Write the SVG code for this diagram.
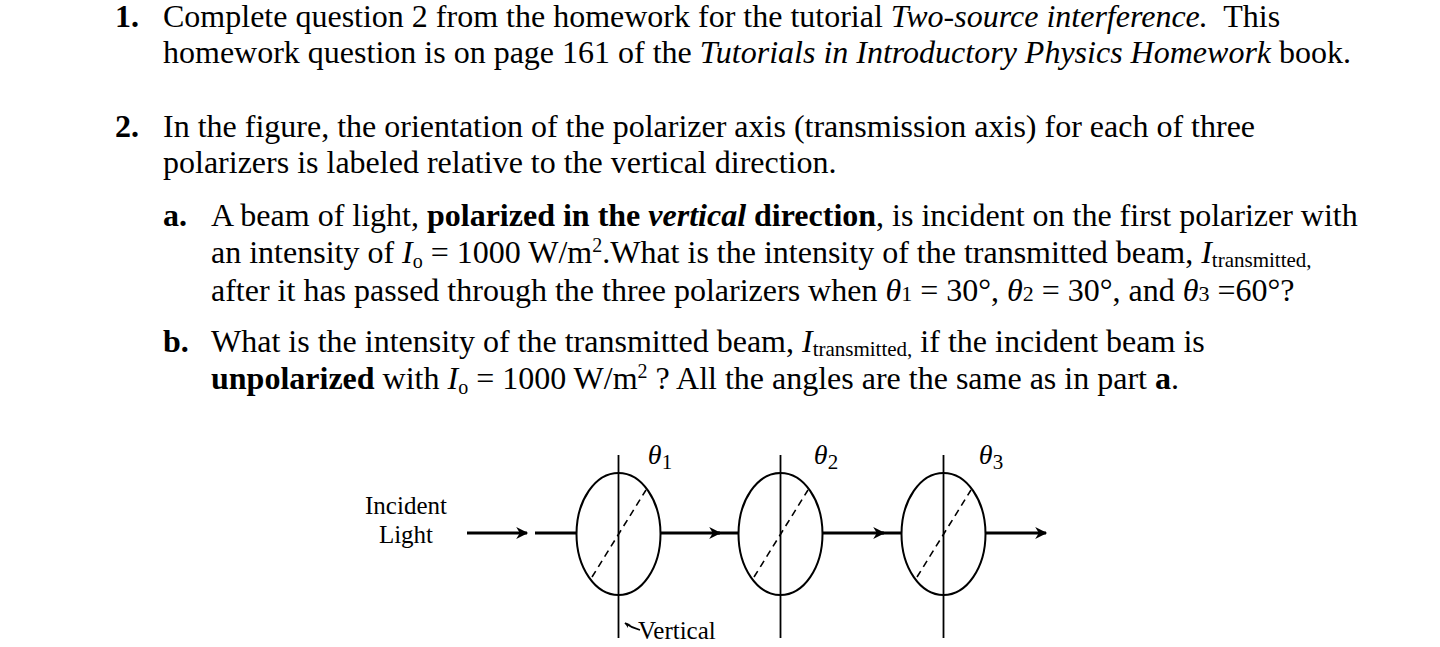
<svg xmlns="http://www.w3.org/2000/svg" width="1440" height="647" viewBox="0 0 1440 647">
<style>
text{font-family:"Liberation Serif","Times New Roman",serif;fill:#000}
.t{font-size:32px}
.f{font-size:25px}
.g{font-size:28px;font-style:italic}
.ln{stroke:#000;stroke-width:3;fill:none}
.thin{stroke:#000;stroke-width:1.8;fill:none}
.el{stroke:#000;stroke-width:2;fill:#fff}
.ds{stroke:#000;stroke-width:1.6;stroke-dasharray:7,5;fill:none}
</style>
<defs>
<marker id="ah" viewBox="0 0 10 10" refX="9" refY="5" markerWidth="6" markerHeight="6" orient="auto" markerUnits="userSpaceOnUse"><path d="M0,1 L10,5 L0,9 L3,5 Z" fill="#000"/></marker>
<marker id="ah2" viewBox="0 0 10 10" refX="9" refY="5" markerWidth="18" markerHeight="12" orient="auto" markerUnits="userSpaceOnUse"><path d="M0,0 L10,5 L0,10 L3,5 Z" fill="#000"/></marker>
</defs>
<g id="text">
<text class="t" x="115" y="27" xml:space="preserve"><tspan font-weight="bold">1.</tspan><tspan x="163">Complete question 2 from the homework for the tutorial <tspan font-style="italic">Two-source interference.</tspan>  This</tspan></text>
<text class="t" x="163" y="63">homework question is on page 161 of the <tspan font-style="italic">Tutorials in Introductory Physics Homework</tspan> book.</text>
<text class="t" x="115" y="137"><tspan font-weight="bold">2.</tspan><tspan x="163">In the figure, the orientation of the polarizer axis (transmission axis) for each of three</tspan></text>
<text class="t" x="163" y="173">polarizers is labeled relative to the vertical direction.</text>
<text class="t" x="163" y="226"><tspan font-weight="bold">a.</tspan><tspan x="211">A beam of light, <tspan font-weight="bold">polarized in the <tspan font-style="italic">vertical</tspan> direction</tspan>, is incident on the first polarizer with</tspan></text>
<text class="t" x="211" y="263">an intensity of <tspan font-style="italic">I</tspan><tspan font-size="20" dy="5">o</tspan><tspan dy="-5"> = 1000 W/m</tspan><tspan font-size="20" dy="-11">2</tspan><tspan dy="11">.What is the intensity of the transmitted beam, </tspan><tspan font-style="italic">I</tspan><tspan font-size="21" dy="4">transmitted,</tspan></text>
<text class="t" x="211" y="301">after it has passed through the three polarizers when <tspan font-style="italic">θ</tspan><tspan font-size="22">1</tspan> = 30°, <tspan font-style="italic">θ</tspan><tspan font-size="22">2</tspan> = 30°, and <tspan font-style="italic">θ</tspan><tspan font-size="22">3</tspan> =60°?</text>
<text class="t" x="163" y="352"><tspan font-weight="bold">b.</tspan><tspan x="211">What is the intensity of the transmitted beam, <tspan font-style="italic">I</tspan><tspan font-size="21" dy="4">transmitted,</tspan><tspan dy="-4"> if the incident beam is</tspan></tspan></text>
<text class="t" x="211" y="389"><tspan font-weight="bold">unpolarized</tspan> with <tspan font-style="italic">I</tspan><tspan font-size="20" dy="5">o</tspan><tspan dy="-5"> = 1000 W/m</tspan><tspan font-size="20" dy="-11">2</tspan><tspan dy="11"> ? All the angles are the same as in part </tspan><tspan font-weight="bold">a</tspan>.</text>
</g>
<g id="connectors">
<line class="ln" x1="467" y1="533" x2="527" y2="533" marker-end="url(#ah2)"/>
<line class="ln" x1="535" y1="533" x2="577" y2="533"/>
<line class="ln" x1="660" y1="533" x2="720" y2="533" marker-end="url(#ah2)"/>
<line class="ln" x1="718" y1="533" x2="739" y2="533"/>
<line class="ln" x1="822" y1="533" x2="884" y2="533" marker-end="url(#ah2)"/>
<line class="ln" x1="882" y1="533" x2="902" y2="533"/>
<line class="ln" x1="985" y1="533" x2="1046" y2="533" marker-end="url(#ah2)"/>
</g>
<g id="pol1">
<ellipse class="el" cx="618.5" cy="534" rx="42" ry="61"/>
<line class="thin" x1="618.5" y1="455" x2="618.5" y2="638"/>
<line class="ds" x1="592" y1="577" x2="646" y2="490"/>
<text class="g" x="660" y="464" text-anchor="middle">θ<tspan font-style="normal" font-size="21" dy="5">1</tspan></text>
</g>
<g id="pol2">
<ellipse class="el" cx="780.5" cy="534" rx="42" ry="61"/>
<line class="thin" x1="780.5" y1="455" x2="780.5" y2="638"/>
<line class="ds" x1="754" y1="577" x2="808" y2="490"/>
<text class="g" x="826" y="464" text-anchor="middle">θ<tspan font-style="normal" font-size="21" dy="5">2</tspan></text>
</g>
<g id="pol3">
<ellipse class="el" cx="943.5" cy="534" rx="42" ry="61"/>
<line class="thin" x1="943.5" y1="455" x2="943.5" y2="638"/>
<line class="ds" x1="917" y1="577" x2="971" y2="490"/>
<text class="g" x="991" y="464" text-anchor="middle">θ<tspan font-style="normal" font-size="21" dy="5">3</tspan></text>
</g>
<g id="labels">
<text class="f" x="406" y="514" text-anchor="middle">Incident</text>
<text class="f" x="406" y="543" text-anchor="middle">Light</text>
<path class="thin" d="M640,630 Q632,628 625,623" marker-end="url(#ah)" stroke-width="1.4"/>
<text class="f" x="638" y="639">Vertical</text>
</g>
</svg>
